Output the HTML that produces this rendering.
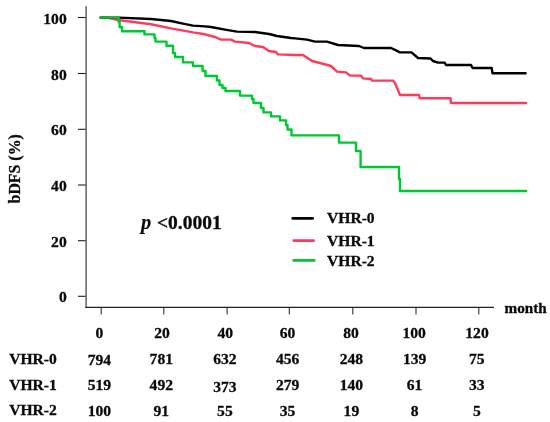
<!DOCTYPE html>
<html><head><meta charset="utf-8"><title>bDFS</title>
<style>
html,body{margin:0;padding:0;background:#fff;}
body{width:550px;height:422px;position:relative;overflow:hidden;}
.t{font-family:"Liberation Serif",serif;font-weight:bold;font-size:15.6px;fill:#0a0a0a;stroke:#0a0a0a;stroke-width:0.3px;}
.p{font-family:"Liberation Serif",serif;font-weight:bold;font-size:18.7px;fill:#0a0a0a;stroke:#0a0a0a;stroke-width:0.3px;}
</style></head><body>
<svg width="550" height="422" viewBox="0 0 550 422" style="position:absolute;left:0;top:0">
<rect width="550" height="422" fill="#fff"/>
<line x1="86.1" y1="6.3" x2="86.1" y2="308" stroke="#555" stroke-width="1.4"/>
<line x1="85.4" y1="307.4" x2="494" y2="307.4" stroke="#222" stroke-width="1.1"/>
<line x1="78" y1="17.5" x2="85.6" y2="17.5" stroke="#222" stroke-width="1.1"/>
<text x="66.7" y="23.6" text-anchor="end" class="t">100</text>
<line x1="78" y1="73.5" x2="85.6" y2="73.5" stroke="#222" stroke-width="1.1"/>
<text x="66.7" y="79.6" text-anchor="end" class="t">80</text>
<line x1="78" y1="129.3" x2="85.6" y2="129.3" stroke="#222" stroke-width="1.1"/>
<text x="66.7" y="135.4" text-anchor="end" class="t">60</text>
<line x1="78" y1="185" x2="85.6" y2="185" stroke="#222" stroke-width="1.1"/>
<text x="66.7" y="191.1" text-anchor="end" class="t">40</text>
<line x1="78" y1="240.7" x2="85.6" y2="240.7" stroke="#222" stroke-width="1.1"/>
<text x="66.7" y="246.8" text-anchor="end" class="t">20</text>
<line x1="78" y1="296.3" x2="85.6" y2="296.3" stroke="#222" stroke-width="1.1"/>
<text x="66.7" y="302.4" text-anchor="end" class="t">0</text>
<line x1="101.2" y1="307.4" x2="101.2" y2="314.5" stroke="#333" stroke-width="1.1"/>
<text x="99.4" y="338.2" text-anchor="middle" class="t">0</text>
<line x1="163.8" y1="307.4" x2="163.8" y2="314.5" stroke="#333" stroke-width="1.1"/>
<text x="162.0" y="338.2" text-anchor="middle" class="t">20</text>
<line x1="227.1" y1="307.4" x2="227.1" y2="314.5" stroke="#333" stroke-width="1.1"/>
<text x="225.3" y="338.2" text-anchor="middle" class="t">40</text>
<line x1="289.3" y1="307.4" x2="289.3" y2="314.5" stroke="#333" stroke-width="1.1"/>
<text x="287.5" y="338.2" text-anchor="middle" class="t">60</text>
<line x1="352.8" y1="307.4" x2="352.8" y2="314.5" stroke="#333" stroke-width="1.1"/>
<text x="351.0" y="338.2" text-anchor="middle" class="t">80</text>
<line x1="416" y1="307.4" x2="416" y2="314.5" stroke="#333" stroke-width="1.1"/>
<text x="414.2" y="338.2" text-anchor="middle" class="t">100</text>
<line x1="478.8" y1="307.4" x2="478.8" y2="314.5" stroke="#333" stroke-width="1.1"/>
<text x="477.0" y="338.2" text-anchor="middle" class="t">120</text>
<text x="504.6" y="313" class="t" style="font-size:15.2px">month</text>
<text transform="translate(19.9,168.8) rotate(-90)" text-anchor="middle" class="t" style="font-size:15.9px">bDFS (%)</text>
<path d="M100.6,17.6 L107.0,17.6 L118.0,20.0 L151.0,24.3 L171.0,28.4 L193.0,32.4 L205.0,34.3 L215.0,37.0 L221.0,39.6 L231.0,39.6 L235.0,41.6 L249.0,43.0 L255.0,46.0 L263.0,47.0 L269.0,51.0 L276.0,52.0 L278.0,54.4 L295.0,55.0 L303.0,55.0 L312.0,61.0 L320.0,63.0 L331.0,66.0 L337.0,71.6 L346.0,72.4 L350.0,75.6 L361.0,75.6 L363.0,78.4 L371.0,79.0 L372.0,80.6 L393.0,80.6 L395.0,83.0 L400.0,95.0 L419.0,95.0 L419.7,98.2 L450.5,98.2 L451.0,103.0 L526.0,103.0" fill="none" stroke="#ff3b5c" stroke-width="2.4" stroke-linejoin="round" stroke-linecap="round"/>
<path d="M100.6,17.6 L118.6,17.6 L151.0,19.0 L171.0,21.0 L183.0,23.6 L193.0,25.6 L205.0,26.4 L211.0,27.0 L225.0,29.6 L237.0,31.6 L255.0,32.0 L269.0,34.0 L277.0,36.0 L291.0,38.0 L295.0,38.4 L307.0,39.6 L315.0,41.6 L327.0,41.6 L338.0,45.0 L359.0,46.0 L364.0,48.0 L391.0,48.0 L395.0,49.9 L400.0,52.4 L411.5,52.4 L418.0,58.0 L430.6,58.5 L433.0,61.0 L438.0,62.6 L444.6,62.6 L446.0,65.0 L471.0,65.0 L472.6,68.0 L491.7,68.0 L492.5,73.3 L525.6,73.3" fill="none" stroke="#000" stroke-width="2.4" stroke-linejoin="round" stroke-linecap="round"/>
<path d="M100.6,17.6 H118.6 V22 H119.6 V27 H122 V31.3 H144.5 V34.4 H154.5 V38 H155.5 V41.6 H166.5 V45.8 H173 V53 H175 V57 H183 V62.4 H193 V66 H202.6 V71 H205.5 V76 H217 V80.5 H219.5 V85 H222.5 V88 H225.5 V91 H240 V95.6 H252 V99 H253.5 V103 H261 V108 H263.5 V112.4 H271 V116.4 H280 V120.4 H286 V125 H287.5 V129.5 H291.5 V135.4 H339 V142.6 H356 V151 H360.6 V167 H399 V179 H400 V191 H526" fill="none" stroke="#00c832" stroke-width="2.4" stroke-linejoin="round" stroke-linecap="round"/>
<text x="141" y="229" class="p" style="font-style:italic;font-size:20.5px;stroke-width:0.1px">p</text>
<text transform="translate(157.0,229) scale(1.042,1)" class="p">&lt;0.0001</text>
<line x1="292.7" y1="218.4" x2="312.7" y2="218.4" stroke="#000" stroke-width="2.6" stroke-linecap="round"/>
<text x="327" y="223.4" class="t">VHR-0</text>
<line x1="293.7" y1="240.6" x2="313.7" y2="240.6" stroke="#ff3b5c" stroke-width="2.6" stroke-linecap="round"/>
<text x="327" y="245.6" class="t">VHR-1</text>
<line x1="293.7" y1="260.4" x2="314.3" y2="260.4" stroke="#00c832" stroke-width="2.6" stroke-linecap="round"/>
<text x="327" y="266" class="t">VHR-2</text>
<text x="9.2" y="364.2" class="t">VHR-0</text>
<text x="99.4" y="365.0" text-anchor="middle" class="t">794</text>
<text x="161.3" y="364.4" text-anchor="middle" class="t">781</text>
<text x="224.9" y="364.4" text-anchor="middle" class="t">632</text>
<text x="287.6" y="364.4" text-anchor="middle" class="t">456</text>
<text x="351.4" y="364.4" text-anchor="middle" class="t">248</text>
<text x="414.6" y="364.4" text-anchor="middle" class="t">139</text>
<text x="476.8" y="364.4" text-anchor="middle" class="t">75</text>
<text x="9.2" y="389.8" class="t">VHR-1</text>
<text x="99.4" y="390.0" text-anchor="middle" class="t">519</text>
<text x="161.3" y="390.0" text-anchor="middle" class="t">492</text>
<text x="224.9" y="391.5" text-anchor="middle" class="t">373</text>
<text x="287.6" y="390.0" text-anchor="middle" class="t">279</text>
<text x="351.4" y="390.0" text-anchor="middle" class="t">140</text>
<text x="414.6" y="390.0" text-anchor="middle" class="t">61</text>
<text x="476.8" y="390.0" text-anchor="middle" class="t">33</text>
<text x="9.2" y="415.4" class="t">VHR-2</text>
<text x="99.4" y="416.2" text-anchor="middle" class="t">100</text>
<text x="161.3" y="415.6" text-anchor="middle" class="t">91</text>
<text x="224.9" y="416.3" text-anchor="middle" class="t">55</text>
<text x="287.6" y="415.6" text-anchor="middle" class="t">35</text>
<text x="351.4" y="415.6" text-anchor="middle" class="t">19</text>
<text x="414.6" y="415.6" text-anchor="middle" class="t">8</text>
<text x="476.8" y="415.6" text-anchor="middle" class="t">5</text>
</svg>
</body></html>
